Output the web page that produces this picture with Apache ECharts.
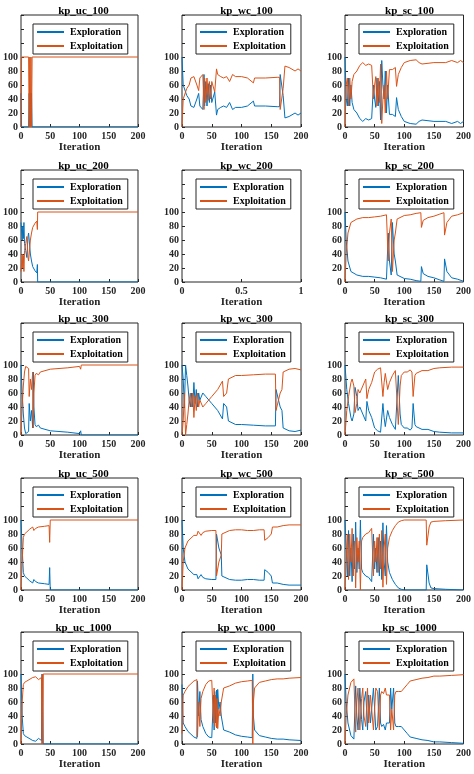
<!DOCTYPE html>
<html><head><meta charset="utf-8">
<script src="https://cdn.jsdelivr.net/npm/echarts@6/dist/echarts.min.js"></script>
<style>html,body{margin:0;padding:0;background:#fff}#c{width:474px;height:774px}</style>
</head><body><div id="c"></div>
<script>
// ---- data (iteration, exploration %, exploitation %) ----
const uc100_iter = [0,1,13,14,15,16,17,18,19,200];
const uc100_exploration = [48,0,0,48,0,48,0,48,0,0];
const uc100_exploitation = [0,100,100,0,100,0,100,0,100,100];

const wc100_iter = [0,2,5,8,12,15,20,25,28,30,35,37,38,40,42,44,46,48,50,55,58,60,65,70,75,80,85,90,100,110,120,122,140,160,164,165,170,173,180,190,195,200];
const wc100_exploration = [100,60,60,45,40,30,28,40,48,30,25,75,30,65,30,62,35,60,35,50,17,25,28,30,28,35,25,28,28,30,37,30,30,29,29,75,45,13,15,20,17,20];
const wc100_exploitation = [0,40,40,55,60,70,72,60,52,70,75,25,70,35,70,38,65,40,65,50,83,75,72,70,72,65,75,72,72,70,63,70,70,71,71,25,55,87,85,80,83,80];

const sc100_iter = [0,2,4,6,8,10,12,15,20,25,30,35,40,45,48,50,52,54,56,58,60,62,64,66,68,70,72,75,80,85,87,90,95,100,110,120,125,130,150,170,180,190,195,200];
const sc100_exploration = [100,40,30,70,30,60,35,25,20,12,8,12,10,12,60,40,28,70,30,65,10,95,60,40,80,20,60,18,18,15,42,25,15,8,5,4,8,10,8,8,5,8,5,8];
const sc100_exploitation = [0,60,70,30,70,40,65,75,80,88,92,88,90,88,40,60,72,30,70,35,90,5,40,60,20,80,40,82,82,85,58,75,85,92,95,96,92,90,92,92,95,92,95,92];

const uc200_iter = [0,2,3,4,5,6,8,10,12,13,14,16,18,20,24,27,28,28.5,200];
const uc200_exploration = [85,60,80,62,85,55,45,35,65,70,60,40,30,22,16,13,25,0,0];
const uc200_exploitation = [15,40,20,38,15,45,55,65,35,30,40,60,70,78,84,87,75,100,100];

const sc200_iter = [0,2,5,10,20,30,40,50,60,70,72,73,75,78,80,83,85,88,90,100,110,120,128,129,132,140,150,160,167,168,172,180,190,200];
const sc200_exploration = [100,60,30,15,10,8,8,7,6,4,4,70,30,10,85,40,30,10,8,5,4,2,1,22,12,8,6,3,1,33,15,6,4,1];
const sc200_exploitation = [0,40,70,85,90,92,92,93,94,96,96,30,70,90,15,60,70,90,92,95,96,98,99,78,88,92,94,97,99,67,85,94,96,99];

const uc300_iter = [0,2,4,6,8,10,13,14,16,18,20,21,22,24,26,30,33,35,50,80,100,102,103,200];
const uc300_exploration = [100,60,30,10,2,0,5,45,20,35,10,90,40,15,12,14,10,8,6,4,2,6,0,0];
const uc300_exploitation = [0,40,70,90,98,100,95,55,80,65,90,10,60,85,88,86,90,92,94,96,98,94,100,100];

const wc300_iter = [0,2,4,6,8,10,12,14,16,18,20,22,24,26,28,30,35,40,50,60,68,70,75,78,90,100,120,140,157,158,165,168,170,180,190,200];
const wc300_exploration = [100,80,40,100,85,70,50,40,60,40,75,45,65,40,60,50,60,55,45,35,23,45,40,20,15,15,14,13,13,65,40,35,10,6,5,7];
const wc300_exploitation = [0,20,60,0,15,30,50,60,40,60,25,55,35,60,40,50,40,45,55,65,77,55,60,80,85,85,86,87,87,35,60,65,90,94,95,93];

const sc300_iter = [0,3,6,10,12,15,17,20,22,25,30,35,37,40,45,50,55,60,63,64,66,68,70,72,75,80,85,88,90,93,95,100,105,110,113,115,118,120,130,140,150,160,180,200];
const sc300_exploration = [100,65,45,25,20,30,68,55,35,40,30,20,48,35,25,10,6,4,4,45,25,12,10,35,25,15,8,10,85,30,15,10,10,7,10,45,15,12,8,8,5,4,3,3];
const sc300_exploitation = [0,35,55,75,80,70,32,45,65,60,70,80,52,65,75,90,94,96,96,55,75,88,90,65,75,85,92,90,15,70,85,90,90,93,90,55,85,88,92,92,95,96,97,97];

const uc500_iter = [0,2,4,6,10,15,20,22,25,30,40,48,49,50,200];
const uc500_exploration = [100,60,25,20,17,13,10,15,12,10,9,8,32,0,0];
const uc500_exploitation = [0,40,75,80,83,87,90,85,88,90,91,92,68,100,100];

const wc500_iter = [0,2,5,10,20,25,27,30,32,35,40,50,57,58,62,66,67,70,80,90,100,110,112,120,130,138,139,145,150,152,160,170,180,200];
const wc500_exploration = [100,60,40,30,22,22,16,16,22,18,16,15,15,80,60,50,20,18,15,14,14,15,17,15,14,14,29,25,20,10,10,8,7,7];
const wc500_exploitation = [0,40,60,70,78,78,84,84,78,82,84,85,85,20,40,50,80,82,85,86,86,85,83,85,86,86,71,75,80,90,90,92,93,93];

const sc500_iter = [0,2,4,6,8,10,12,14,16,18,20,22,24,26,28,30,35,40,45,47,48,50,52,54,56,58,60,62,64,66,68,70,72,75,80,85,90,95,100,137,138,142,145,150,170,171,200];
const sc500_exploration = [100,60,20,85,20,60,12,80,30,97,25,60,30,100,30,25,20,18,12,10,80,30,60,25,75,20,70,15,96,40,20,92,40,25,15,8,3,1,0,0,36,10,3,2,1,0,0];
const sc500_exploitation = [0,40,80,15,80,40,88,20,70,3,75,40,70,0,70,75,80,82,88,90,20,70,40,75,25,80,30,85,4,60,80,8,60,75,85,92,97,99,100,100,64,90,97,98,99,100,100];

const uc1000_iter = [0,2,4,6,10,20,25,28,30,33,35,36,36.5,37,38,200];
const uc1000_exploration = [100,40,15,12,10,5,4,3,8,6,5,100,0,100,0,0];
const uc1000_exploitation = [0,60,85,88,90,95,96,97,92,94,95,0,100,0,100,100];

const wc1000_iter = [0,2,5,10,15,20,25,26,28,30,32,35,40,45,50,52,53,54,55,56,58,59,60,62,64,66,68,70,80,90,100,110,118,119,120,122,130,140,150,160,170,180,200];
const wc1000_exploration = [85,30,25,18,14,10,8,90,40,75,35,25,15,10,9,10,70,20,75,30,77,35,78,50,60,40,30,20,17,13,11,10,9,100,40,20,12,10,8,7,7,6,5];
const wc1000_exploitation = [15,70,75,82,86,90,92,10,60,25,65,75,85,90,91,90,30,80,25,70,23,65,22,50,40,60,70,80,83,87,89,90,91,0,60,80,88,90,92,93,93,94,95];

const sc1000_iter = [0,2,5,10,15,17,18,20,22,25,28,30,32,35,38,40,43,45,48,50,52,55,58,60,62,65,68,70,72,75,77,79,82,84,86,90,95,100,105,110,120,130,140,150,160,180,200];
const sc1000_exploration = [100,60,30,12,7,6,83,40,20,80,35,20,60,75,20,70,30,30,80,50,20,25,80,30,25,28,20,30,28,30,80,50,80,30,25,25,25,20,15,10,8,6,5,3,3,2,1];
const sc1000_exploitation = [0,40,70,88,93,94,17,60,80,20,65,80,40,25,80,30,70,70,20,50,80,75,20,70,75,72,80,70,72,70,20,50,20,70,75,75,75,80,85,90,92,94,95,97,97,98,99];

const panelTitles = ['kp_uc_100','kp_wc_100','kp_sc_100','kp_uc_200','kp_wc_200','kp_sc_200','kp_uc_300','kp_wc_300','kp_sc_300','kp_uc_500','kp_wc_500','kp_sc_500','kp_uc_1000','kp_wc_1000','kp_sc_1000'];
const panelData = [
 [uc100_iter,uc100_exploration,uc100_exploitation],[wc100_iter,wc100_exploration,wc100_exploitation],[sc100_iter,sc100_exploration,sc100_exploitation],
 [uc200_iter,uc200_exploration,uc200_exploitation],null,[sc200_iter,sc200_exploration,sc200_exploitation],
 [uc300_iter,uc300_exploration,uc300_exploitation],[wc300_iter,wc300_exploration,wc300_exploitation],[sc300_iter,sc300_exploration,sc300_exploitation],
 [uc500_iter,uc500_exploration,uc500_exploitation],[wc500_iter,wc500_exploration,wc500_exploitation],[sc500_iter,sc500_exploration,sc500_exploitation],
 [uc1000_iter,uc1000_exploration,uc1000_exploitation],[wc1000_iter,wc1000_exploration,wc1000_exploitation],[sc1000_iter,sc1000_exploration,sc1000_exploitation]
];

const FONT = '"Liberation Serif","Times New Roman",serif';
const BLUE = '#0072BD', ORANGE = '#D95319';
const colLeft = [19, 182, 345], rowTop = [15, 170, 323, 478, 632];
const W = 119, H = 112;

const grid=[], xAxis=[], yAxis=[], series=[], legend=[], title=[];
panelTitles.forEach((t,i)=>{
  const r=Math.floor(i/3), c=i%3;
  const L=colLeft[c], T=rowTop[r];
  grid.push({left:L, top:T, width:W, height:H, show:true, borderColor:'#262626', borderWidth:1, backgroundColor:'#fff'});
  const empty = !panelData[i];
  xAxis.push({type:'value', gridIndex:i, min:0, max:empty?1:200, interval:empty?0.5:50,
    name:'Iteration', nameLocation:'middle', nameGap:15,
    nameTextStyle:{fontFamily:FONT,fontWeight:'bold',fontSize:11,color:'#262626'},
    axisLine:{show:false}, splitLine:{show:false},
    axisTick:{inside:true,length:3,lineStyle:{color:'#262626'}},
    axisLabel:{fontFamily:FONT,fontWeight:'bold',fontSize:10,color:'#262626',margin:4}});
  yAxis.push({type:'value', gridIndex:i, min:0, max:160, interval:20,
    axisLine:{show:false}, splitLine:{show:false},
    axisTick:{inside:true,length:3,lineStyle:{color:'#262626'}},
    axisLabel:{fontFamily:FONT,fontWeight:'bold',fontSize:10,color:'#262626',margin:3,
      formatter:v=>v<=100?String(v):''}});
  title.push({text:t, left:L+W/2, top:T-14, textAlign:'center',
    textStyle:{fontFamily:FONT,fontWeight:'bold',fontSize:11,color:'#000'}});
  legend.push({left:L+14, top:T+9, orient:'vertical', itemGap:4, itemWidth:27, itemHeight:2,
    icon:'rect', padding:[3,5,3,4], borderColor:'#262626', borderWidth:1, backgroundColor:'#fff',
    selectedMode:false,
    data:[{name:'Exploration',itemStyle:{color:BLUE}},{name:'Exploitation',itemStyle:{color:ORANGE}}],
    textStyle:{fontFamily:FONT,fontWeight:'bold',fontSize:10,color:'#000',padding:[0,0,0,1]}});
  if(!empty){
    const [it,ex,ep]=panelData[i];
    series.push({name:'Exploration',type:'line',xAxisIndex:i,yAxisIndex:i,symbol:'none',
      lineStyle:{width:1,color:BLUE},itemStyle:{color:BLUE},data:it.map((x,k)=>[x,ex[k]])});
    series.push({name:'Exploitation',type:'line',xAxisIndex:i,yAxisIndex:i,symbol:'none',
      lineStyle:{width:1,color:ORANGE},itemStyle:{color:ORANGE},data:it.map((x,k)=>[x,ep[k]])});
  } else {
    series.push({name:'Exploration',type:'line',xAxisIndex:i,yAxisIndex:i,symbol:'none',lineStyle:{color:BLUE},itemStyle:{color:BLUE},data:[]});
    series.push({name:'Exploitation',type:'line',xAxisIndex:i,yAxisIndex:i,symbol:'none',lineStyle:{color:ORANGE},itemStyle:{color:ORANGE},data:[]});
  }
});

const chart = echarts.init(document.getElementById('c'), null, {renderer:'canvas'});
chart.setOption({animation:false, backgroundColor:'#fff', title, grid, xAxis, yAxis, legend, series});
</script></body></html>
